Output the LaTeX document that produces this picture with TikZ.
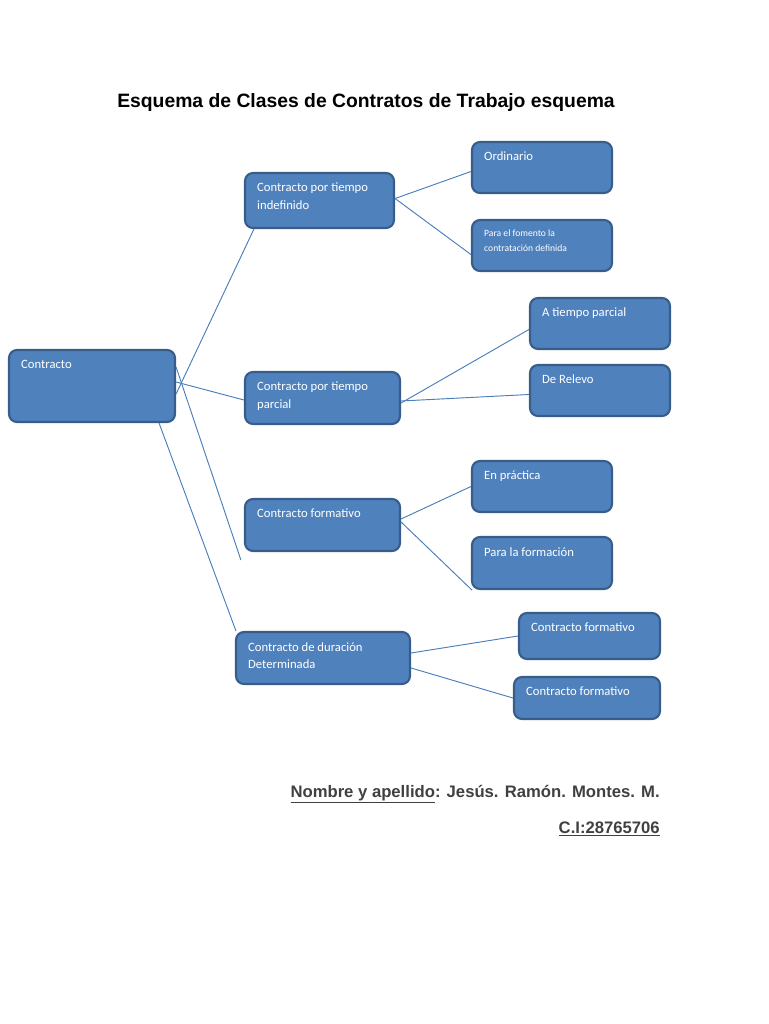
\documentclass[tikz,border=0pt]{standalone}
\usepackage{fontspec}
\setmainfont{Liberation Sans}
\newfontfamily\boxfont{Carlito}
\definecolor{boxfill}{HTML}{4F81BD}
\definecolor{boxline}{HTML}{385D8A}
\definecolor{lnk}{HTML}{4A7EBB}
\definecolor{foot}{HTML}{404040}
\tikzset{
 bx/.style={draw=boxline, line width=1.6pt, fill=boxfill, rounded corners=6pt, inner sep=0pt},
 bt/.style={anchor=north west, text=white, font=\boxfont\fontsize{9.5}{13}\selectfont, align=left, inner sep=0pt},
 bts/.style={bt, font=\boxfont\fontsize{7.2}{11}\selectfont},
 lk/.style={draw=lnk, line width=0.7pt}
}
\newcommand{\mybox}[7]{%
 \node[bx, minimum width={(#4-#2)*0.75pt}, minimum height={(#5-#3)*0.75pt}] (#1) at ({(#2+#4)/2},{(#3+#5)/2}) {};
 \node[#7] (#1t) at ([xshift=13*0.75pt,yshift=-11*0.75pt]#1.north west) {#6};}
\begin{document}
\begin{tikzpicture}[x=0.75pt,y=-0.75pt]
\useasboundingbox (0,0) rectangle (768,1024);
\node[font=\bfseries\fontsize{14.5}{16}\selectfont] (title) at (366,103) {Esquema de Clases de Contratos de Trabajo esquema};
\mybox{root}{9}{350}{175}{422}{Contracto}{bt}
\mybox{ind}{245}{173}{394}{228}{Contracto por tiempo\\indefinido}{bt}
\mybox{ord}{472}{142}{612}{193}{Ordinario}{bt}
\mybox{fom}{472}{220}{612}{271}{Para el fomento la\\contratación definida}{bts}
\mybox{par}{245}{372}{400}{424}{Contracto por tiempo\\parcial}{bt}
\mybox{atp}{530}{298}{670}{349}{A tiempo parcial}{bt}
\mybox{rel}{530}{365}{670}{416}{De Relevo}{bt}
\mybox{for}{245}{499}{400}{551}{Contracto formativo}{bt}
\mybox{pra}{472}{461}{612}{512}{En práctica}{bt}
\mybox{paf}{472}{537}{612}{589}{Para la formación}{bt}
\mybox{det}{236}{632}{410}{684}{Contracto de duración\\Determinada}{bt}
\mybox{cf1}{519}{613}{660}{659}{Contracto formativo}{bt}
\mybox{cf2}{514}{677}{660}{719}{Contracto formativo}{bt}
% root links
\draw[lk] ([yshift=-8*0.75pt]root.east) -- ([xshift=10*0.75pt]ind.south west);
\draw[lk] ([yshift=4*0.75pt]root.east) -- ([yshift=-2*0.75pt]par.west);
\draw[lk] ([yshift=19*0.75pt]root.east) -- ([xshift=-3*0.75pt,yshift=-8*0.75pt]for.south west);
\draw[lk] ([xshift=-17*0.75pt]root.south east) -- ([xshift=1*0.75pt]det.north west);
% second level
\draw[lk] ([yshift=2*0.75pt]ind.east) -- ([yshift=-4*0.75pt]ord.west);
\draw[lk] ([yshift=2*0.75pt]ind.east) -- ([yshift=-9*0.75pt]fom.west);
\draw[lk] ([yshift=-5*0.75pt]par.east) -- ([yshift=-6*0.75pt]atp.west);
\draw[lk] ([yshift=-3*0.75pt]par.east) -- ([yshift=-4*0.75pt]rel.west);
\draw[lk] ([yshift=6*0.75pt]for.east) -- (pra.west);
\draw[lk] ([yshift=3*0.75pt]for.east) -- ([xshift=1*0.75pt]paf.south west);
\draw[lk] ([yshift=5*0.75pt]det.east) -- (cf1.west);
\draw[lk] ([yshift=-10*0.75pt]det.east) -- (cf2.west);
% footer
\node[anchor=base east, text=foot, font=\bfseries\fontsize{12.5}{14}\selectfont, inner sep=0pt] (name) at (660,797) {\underline{Nombre y apellido}: Jesús. Ramón. Montes. M.};
\node[anchor=base east, text=foot, font=\bfseries\fontsize{12.5}{14}\selectfont, inner sep=0pt] (ci) at (660,833) {\underline{C.I:28765706}};
\end{tikzpicture}
\end{document}
